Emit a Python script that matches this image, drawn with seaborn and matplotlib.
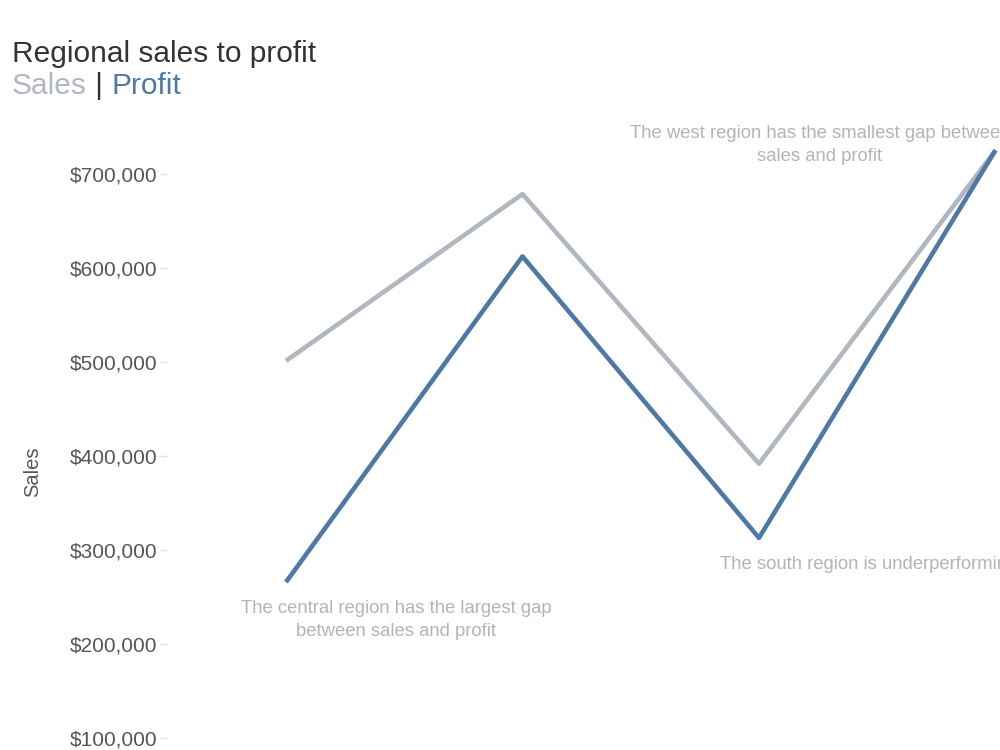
import pandas as pd
import seaborn as sns
import matplotlib.pyplot as plt
from matplotlib.ticker import FuncFormatter

# regional totals
regions = ["Central", "East", "South", "West"]
sales = [501240, 678781, 391722, 725458]
profit = [39706, 91523, 46749, 108418]

df = pd.DataFrame({"Region": regions, "Sales": sales, "Profit": profit})
df["pos"] = range(len(df))

sns.set_style("white")
plt.rcParams["font.family"] = ["Liberation Sans", "DejaVu Sans"]

SALES_C = "#b0b7c1"
PROFIT_C = "#4e79a7"
NOTE_C = "#b4b4b4"

fig = plt.figure(figsize=(10, 7.5), dpi=100)
ax = fig.add_axes([0.167, 0.0, 0.833, 0.8467])
ax2 = ax.twinx()

sns.lineplot(data=df, x="pos", y="Sales", ax=ax, color=SALES_C, lw=3.3,
             solid_capstyle="butt")
sns.lineplot(data=df, x="pos", y="Profit", ax=ax2, color=PROFIT_C, lw=3.3,
             solid_capstyle="butt")

ylo, yhi = 87000, 763000
ax.set_ylim(ylo, yhi)
# profit axis scaled so the west points meet
ratio = profit[-1] / sales[-1]
ax2.set_ylim(ylo * ratio, yhi * ratio)
ax.set_xlim(-0.503, 3.019)

ax.set_yticks(range(100000, 800000, 100000))
ax.yaxis.set_major_formatter(FuncFormatter(lambda v, p: f"${v:,.0f}"))
ax.tick_params(axis="y", labelsize=15, labelcolor="#555555", color="#e0e0e0",
               length=5, width=1, pad=2, left=True)
ax.set_xticks([])
ax.set_xlabel("")
ax.set_ylabel("Sales", fontsize=14.5, color="#555555")
ax.yaxis.set_label_coords(-0.150, 0.438)
ax2.set_yticks([])
ax2.set_ylabel("")
for a in (ax, ax2):
    for s in a.spines.values():
        s.set_visible(False)

note_kw = dict(fontsize=13.3, color=NOTE_C, linespacing=1.45)
ax.text(0.465, 225300, "The central region has the largest gap\nbetween sales and profit",
        ha="center", va="center", **note_kw)
ax.text(2.258, 731300, "The west region has the smallest gap between\nsales and profit",
        ha="center", va="center", **note_kw)
ax.text(1.835, 284000, "The south region is underperforming",
        ha="left", va="center", **note_kw)

fig.text(0.012, 0.9175, "Regional sales to profit", fontsize=21.5, color="#333333",
         va="baseline")
r = fig.canvas.get_renderer()
t1 = fig.text(0.012, 0.8747, "Sales", fontsize=21.5, color=SALES_C, va="baseline")
x = t1.get_window_extent(r).x1 / fig.bbox.width
t2 = fig.text(x, 0.8747, " | ", fontsize=21.5, color="#333333", va="baseline")
x = t2.get_window_extent(r).x1 / fig.bbox.width
fig.text(x, 0.8747, "Profit", fontsize=21.5, color=PROFIT_C, va="baseline")

fig.savefig("out.png", dpi=100)
